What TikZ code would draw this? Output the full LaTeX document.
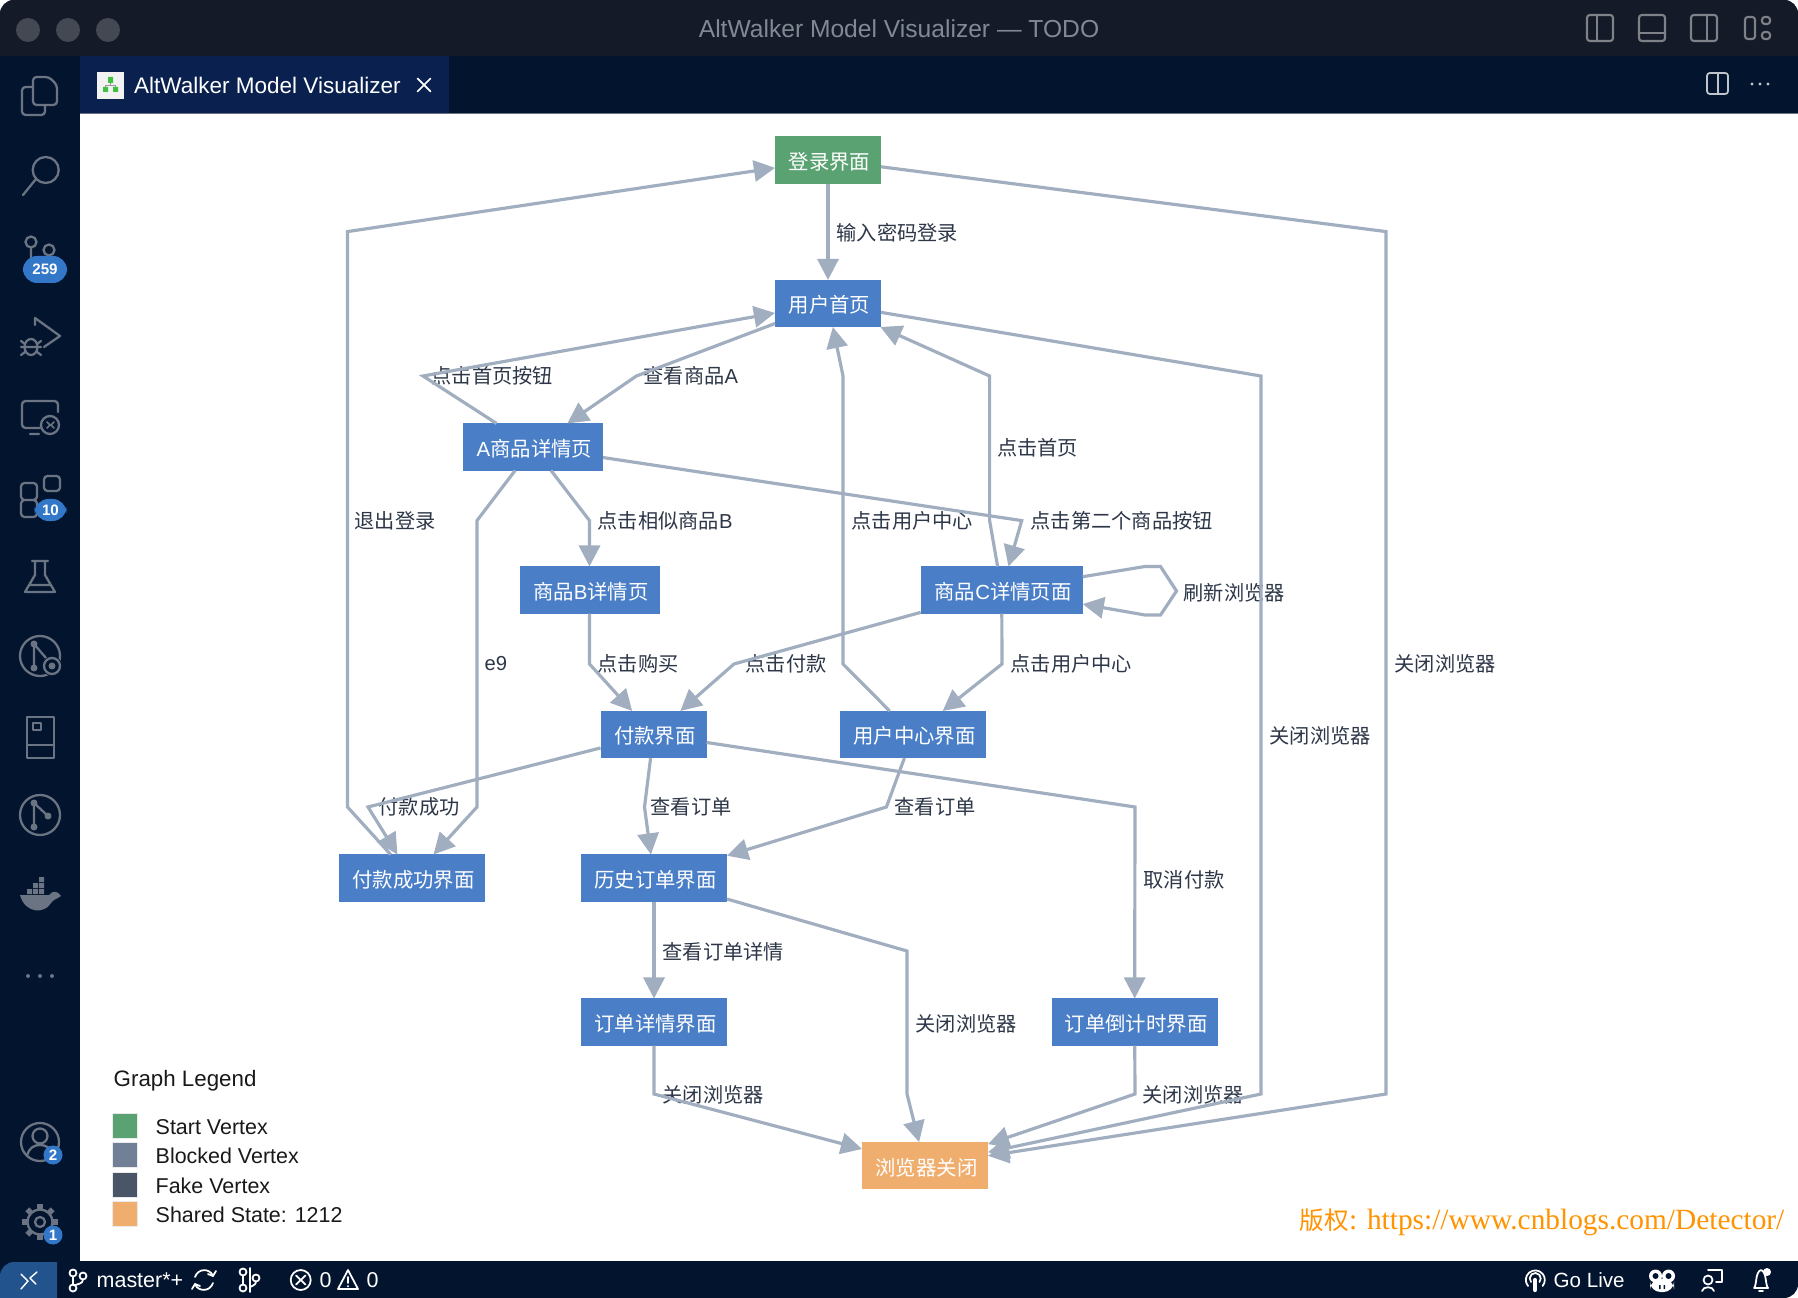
\documentclass[tikz,border=0pt]{standalone}
\usepackage{fontspec}
\usetikzlibrary{arrows.meta}
\setmainfont{Liberation Sans}
\newfontfamily\cjk{Noto Sans CJK SC}
\newfontfamily\ltn{Liberation Sans}
\newfontfamily\srf{Liberation Serif}
\definecolor{startgreen}{HTML}{5AA272}
\definecolor{vertexblue}{HTML}{4A7FC7}
\definecolor{sharedorange}{HTML}{F0AE6E}
\definecolor{blockedgray}{HTML}{718096}
\definecolor{fakegray}{HTML}{4A5568}
\definecolor{edgegray}{HTML}{A0AEC0}
\definecolor{labeldark}{HTML}{2D3748}
\definecolor{titlebg}{HTML}{141A27}
\definecolor{sidebg}{HTML}{03142E}
\definecolor{tabbg}{HTML}{0A2150}
\definecolor{iconcol}{HTML}{6B7482}
\definecolor{badgeblue}{HTML}{3277C8}
\tikzset{
  vertex/.style={text=white,inner sep=0pt,outer sep=0pt,minimum height=0.47cm,text height=5.4pt,text depth=0pt,font=\cjk\fontsize{5.8}{7}\selectfont},
  edge/.style={draw=edgegray,line width=0.9pt,-{Triangle[length=6pt,width=6pt]}},
  edgelabel/.style={anchor=west,inner sep=0pt,text=labeldark,font=\cjk\fontsize{5.75}{7}\selectfont},
  legendtext/.style={anchor=west,inner sep=0pt,text=black!90,font=\fontsize{6.1}{8}\selectfont},
  swatch/.style={inner sep=0pt,minimum size=0.25cm,draw=black!8,line width=0.2pt},
  icon/.style={draw=iconcol,line width=0.65pt,line cap=round,line join=round},
  baricon/.style={draw=white,line width=0.5pt,line cap=round,line join=round},
  wintext/.style={anchor=west,inner sep=0pt,text=white,font=\fontsize{6.1}{8}\selectfont},
  badge/.style={fill=badgeblue,text=white,inner sep=0pt,font=\bfseries\fontsize{4.3}{5}\selectfont}
}
\begin{document}
\begin{tikzpicture}[x=0.01cm,y=-0.01cm]
  \useasboundingbox (0,0) rectangle (1798,1298);
  \def \Nodes {
    login/828/160/106/startgreen/登录界面,
    home/828/303.5/106/vertexblue/用户首页,
    goodsa/533/447/140/vertexblue/{\ltn A}商品详情页,
    goodsb/589.5/590/140/vertexblue/商品{\ltn B}详情页,
    goodsc/1001.7/590/162/vertexblue/商品{\ltn C}详情页面,
    pay/653.5/734.5/106/vertexblue/付款界面,
    usercenter/913/734.5/146/vertexblue/用户中心界面,
    paid/412/878/146/vertexblue/付款成功界面,
    history/654/878/146/vertexblue/历史订单界面,
    detail/654/1022/146/vertexblue/订单详情界面,
    countdown/1134.6/1022/166/vertexblue/订单倒计时界面,
    closed/925/1165.6/126/sharedorange/浏览器关闭}
  \def \Labels {
    e1/836/233/输入密码登录,
    e2/1394/664/关闭浏览器,
    e3/643/376/查看商品{\ltn A},
    e4/431/376/点击首页按钮,
    e5/597/520.6/点击相似商品{\ltn B},
    e6/484/664/{\ltn e9},
    e7/1030/520.6/点击第二个商品按钮,
    e8/597/664/点击购买,
    e9/745/664/点击付款,
    e10/996.5/448/点击首页,
    e11/1183/592.5/刷新浏览器,
    e12/1010/664/点击用户中心,
    e13/851/520.6/点击用户中心,
    e14/1269/736/关闭浏览器,
    e15/378/807/付款成功,
    e16/354/520.6/退出登录,
    e17/650/807/查看订单,
    e18/1143/879.5/取消付款,
    e19/894/807/查看订单,
    e20/915/1023.5/关闭浏览器,
    e21/662/951.5/查看订单详情,
    e22/662/1095/关闭浏览器,
    e23/1142/1095/关闭浏览器}
  \def \Legend {
    start/1125.5/startgreen/Start Vertex,
    blocked/1154.5/blockedgray/Blocked Vertex,
    fake/1184.5/fakegray/Fake Vertex,
    shared/1213.5/sharedorange/Shared State: 1212}

  \fill[white] (0,0) rectangle (1798,1298);
  \fill[sidebg,rounded corners=4pt] (0,0) rectangle (1798,1298);
  \fill[titlebg] (0,56) {[rounded corners=4pt] -- (0,0) -- (1798,0)} -- (1798,56) -- cycle;
  \fill[tabbg] (80,56) rectangle (449,114);
  \fill[white] (80,114) rectangle (1798,1261);
  \fill[sidebg!60!white] (80,113) rectangle (1798,114.5);
  \fill[badgeblue!70!black] (0,1298) {[rounded corners=4pt] -- (0,1262)} -- (57,1262) -- (57,1298) -- cycle;

  \foreach \x in {28,68,108} {
    \fill[titlebg!80!white] (\x,30) circle[radius=12];
  }
  \node[text=iconcol!85!white,inner sep=0pt,font=\fontsize{7}{9}\selectfont] (wintitle) at (899,29) {AltWalker Model Visualizer — TODO};
  \fill[black!5] (97,72) rectangle (124,99);
  \draw[black!40,line width=0.25pt] (110.5,83) -- (110.5,85) (105.5,87) -- (105.5,85) -- (115.5,85) -- (115.5,87);
  \fill[green!50!gray] (108,77) rectangle (113,83) (103,87) rectangle (108,92) (113,87) rectangle (118,92);
  \node[wintext,font=\fontsize{6.4}{9}\selectfont] (tabtitle) at (133.5,85) {AltWalker Model Visualizer};
  \draw[baricon] (417.5,78.5) -- (430.5,91.5) (430.5,78.5) -- (417.5,91.5);

  \foreach \x in {1587,1691} {
    \draw[draw=white!45!titlebg,line width=0.6pt,rounded corners=0.8pt] (\x,15) rectangle +(26,26);
  }
  \draw[draw=white!45!titlebg,line width=0.6pt] (1597,15) -- (1597,41) (1707,15) -- (1707,41);
  \draw[draw=white!45!titlebg,line width=0.6pt,rounded corners=0.8pt] (1639,15) rectangle (1665,41);
  \draw[draw=white!45!titlebg,line width=0.6pt] (1639,33) -- (1665,33);
  \draw[draw=white!45!titlebg,line width=0.6pt,rounded corners=0.8pt] (1745,17) rectangle (1755,39) (1762,17) rectangle (1770,24) (1762,32) rectangle (1770,39);
  \draw[draw=white!75!sidebg,line width=0.5pt,rounded corners=0.8pt] (1707,73) rectangle (1728,94);
  \draw[draw=white!75!sidebg,line width=0.5pt] (1718,73) -- (1718,94);
  \foreach \x in {1752,1760,1768} {
    \fill[white!75!sidebg] (\x,84) circle[radius=1.6];
  }

  \draw[icon,rounded corners=1pt] (33,87) -- (22,87) -- (22,115) -- (45,115) -- (45,105);
  \draw[icon,rounded corners=1pt] (33,105) -- (33,77) -- (49,77) -- (57,85) -- (57,105) -- cycle;
  \draw[icon] (45.7,170) circle[radius=13] (36,179) -- (23,195);
  \draw[icon] (31,242) circle[radius=5.5] (49,250) circle[radius=5.5] (31,247.5) -- (31,258);
  \node[badge,rounded corners=4pt,minimum width=0.44cm,minimum height=0.27cm] (scm) at (45,269.5) {259};
  \draw[icon] (35,325) -- (35,318) -- (60,336) -- (44,347);
  \draw[icon] (31,347) ellipse[x radius=6.5,y radius=8];
  \draw[icon] (21,341) -- (25,344) (21,347) -- (41,347) (21,355) -- (25,352) (41,355) -- (37,352) (41,341) -- (37,344);
  \draw[icon,rounded corners=1pt] (40,428) -- (22,428) -- (22,401) -- (58,401) -- (58,412);
  \draw[icon] (30,434) -- (39,434) (50,425) circle[radius=9];
  \draw[icon,line width=0.45pt] (47,422) -- (50,425) -- (47,428) (54,422) -- (51,425) -- (54,428);
  \draw[icon,rounded corners=1pt] (21,483) rectangle (37,500) (21,500) rectangle (37,517) (44,476) rectangle (60,491);
  \node[badge,rounded corners=4pt,minimum width=0.32cm,minimum height=0.22cm] (extensions) at (50.5,510) {10};
  \draw[icon] (32,561) -- (48,561) (35,561) -- (35,575) -- (25,592) -- (55,592) -- (45,575) -- (45,561) (29,585) -- (51,585);
  \draw[icon] (40,656) circle[radius=20];
  \fill[iconcol] (34,644) circle[radius=3.5] (34,668) circle[radius=3.5];
  \draw[icon] (34,644) -- (34,668) (34,644) -- (46,658);
  \fill[sidebg] (52,666) circle[radius=10];
  \draw[icon] (52,666) circle[radius=8];
  \fill[iconcol] (52,666) circle[radius=3.5];
  \draw[icon] (27,717) rectangle (54,758) (27,745) -- (54,745) (33,723) rectangle (41,730);
  \draw[icon] (40,815) circle[radius=20];
  \fill[iconcol] (34,803) circle[radius=3.5] (34,827) circle[radius=3.5] (48,816) circle[radius=3.5];
  \draw[icon] (34,803) -- (34,827) (34,803) -- (48,816);
  \fill[iconcol] (20,895) -- (49,895) .. controls (53,890) and (58,891) .. (61,896) .. controls (57,899) and (54,899) .. (51,903) .. controls (45,914) and (25,914) .. (20,895) -- cycle;
  \fill[iconcol] (27,889) rectangle (32,894) (33,889) rectangle (38,894) (39,889) rectangle (44,894) (33,883) rectangle (38,888) (39,883) rectangle (44,888) (39,877) rectangle (44,882);
  \foreach \x in {28,40,52} {
    \fill[iconcol] (\x,976) circle[radius=2];
  }
  \draw[icon] (40,1142) circle[radius=19] (40,1136) circle[radius=7.5];
  \draw[icon] (27,1156) .. controls (29,1147) and (35,1145) .. (40,1145) .. controls (45,1145) and (51,1147) .. (53,1156);
  \node[badge,circle,minimum size=0.19cm] (accounts) at (53,1155) {2};
  \draw[icon] (40,1222) circle[radius=12.5] (40,1222) circle[radius=5];
  \foreach \a in {0,45,...,315} {
    \draw[icon,line width=1.6pt,line cap=butt] (40,1222) ++(\a:13) -- ++(\a:5);
  }
  \node[badge,circle,minimum size=0.19cm] (settings) at (53,1235) {1};

  \draw[baricon,line width=0.4pt] (21,1289) -- (28,1281) -- (21,1274) (37,1272) -- (30,1278) -- (36,1284);
  \draw[baricon] (73,1273) circle[radius=3.5] (73,1288) circle[radius=3.5] (83,1276) circle[radius=3.5] (73,1276.5) -- (73,1284.5) (83,1279.5) .. controls (83,1284) and (77,1284) .. (74,1285.5);
  \node[wintext] (branch) at (96,1280) {master*+};
  \draw[baricon] (195,1277) .. controls (198,1268) and (210,1268) .. (213,1276) (213,1283) .. controls (210,1292) and (198,1292) .. (195,1284);
  \draw[baricon] (216,1271) -- (213,1276) -- (208,1274) (192,1289) -- (195,1284) -- (200,1286);
  \draw[baricon] (243,1272) circle[radius=3.5] (243,1288) circle[radius=3.5] (256,1278) circle[radius=3.5] (243,1275.5) -- (243,1284.5) (250,1268) -- (250,1292) (256,1281.5) .. controls (256,1285) and (252,1286) .. (250,1287);
  \draw[baricon] (300.7,1280) circle[radius=10] (296,1275.5) -- (305.5,1284.5) (305.5,1275.5) -- (296,1284.5);
  \node[wintext] (errors) at (319,1280) {0};
  \draw[baricon] (348,1270) -- (358,1289) -- (338,1289) -- cycle (348,1277) -- (348,1283) (348,1286) -- (348,1286.5);
  \node[wintext] (warnings) at (366,1280) {0};
  \draw[baricon] (1528,1286) arc[start angle=140,end angle=400,radius=9.5] (1531,1282) arc[start angle=140,end angle=400,radius=5.5];
  \draw[baricon,line width=1.2pt] (1535,1280) -- (1535,1290);
  \node[wintext,font=\fontsize{5.85}{8}\selectfont] (golive) at (1553,1280) {Go Live};
  \fill[white,rounded corners=3pt] (1650,1279) rectangle (1674,1292);
  \fill[white] (1655.5,1276) circle[radius=6.5] (1668.5,1276) circle[radius=6.5];
  \fill[sidebg] (1655.5,1276) circle[radius=3] (1668.5,1276) circle[radius=3];
  \fill[sidebg] (1659,1285) rectangle (1660.5,1289) (1663.5,1285) rectangle (1665,1289);
  \draw[baricon] (1708,1280) circle[radius=4.5] (1702,1291) .. controls (1703,1286) and (1713,1286) .. (1714,1291) (1708,1270) -- (1722,1270) -- (1722,1282) -- (1716,1282);
  \draw[baricon] (1754,1288) .. controls (1757,1285) and (1755,1272) .. (1761,1270) .. controls (1767,1272) and (1765,1285) .. (1768,1288) -- cycle (1759,1291) -- (1763,1291);
  \fill[white] (1767,1272) circle[radius=4];

  \foreach \id / \x / \y / \w / \c / \txt in \Nodes {
    \node[vertex,fill=\c,minimum width={\w*0.01cm}] (\id) at (\x, \y) {\hspace*{0.8pt}\txt};
  }
  \foreach \id / \x / \y / \txt in \Labels {
    \node[edgelabel] (\id) at (\x, \y) {\txt};
  }

  \path[edge] (login) -- (home);
  \path[edge] (login) -- (1386,231.6) -- (1386,1094) -- (closed);
  \path[edge] (home) -- (636.4,376) -- (goodsa);
  \path[edge] (home) -- (1261,376) -- (1261,1094) -- (closed);
  \path[edge] (goodsa) -- (423,376) -- (home);
  \path[edge] (goodsa) -- (589.5,520.6) -- (goodsb);
  \path[edge] (goodsa) -- (477,520.6) -- (477,807) -- (paid);
  \path[edge] (goodsa) -- (1021.7,520.6) -- (goodsc);
  \path[edge] (goodsb) -- (589.5,664) -- (pay);
  \path[edge] (goodsc) -- (734,664) -- (pay);
  \path[edge] (goodsc) -- (989.6,520.6) -- (989.6,376) -- (home);
  \path[edge] (goodsc) -- (1145,566.5) -- (1160.5,566.5) -- (1176.5,591) -- (1160.5,615) -- (1145,615) -- (goodsc);
  \path[edge] (goodsc) -- (1002,664) -- (usercenter);
  \path[edge] (usercenter) -- (843,664) -- (843,376) -- (home);
  \path[edge] (usercenter) -- (886.4,807) -- (history);
  \path[edge] (pay) -- (368,807) -- (paid);
  \path[edge] (pay) -- (644.5,807) -- (history);
  \path[edge] (pay) -- (1135,807) -- (countdown);
  \path[edge] (paid) -- (347.5,807) -- (347.5,231.6) -- (login);
  \path[edge] (history) -- (detail);
  \path[edge] (history) -- (907,951) -- (907,1094) -- (closed);
  \path[edge] (detail) -- (654,1094) -- (closed);
  \path[edge] (countdown) -- (1135,1094) -- (closed);

  \node[legendtext,font=\fontsize{6.35}{8}\selectfont] (legendtitle) at (113,1081) {Graph Legend};
  \foreach \id / \y / \c / \txt in \Legend {
    \node[swatch,fill=\c] (\id) at (125, \y) {};
    \node[legendtext] (\id text) at (155, \y + 1.5) {\txt};
  }
  \node[anchor=east,inner sep=0pt,text=orange!85!yellow,font=\srf\fontsize{8.35}{10}\selectfont] (watermark) at (1785,1222.5) {{\cjk\fontsize{7}{10}\selectfont 版权}: https://www.cnblogs.com/Detector/};
\end{tikzpicture}
\end{document}
